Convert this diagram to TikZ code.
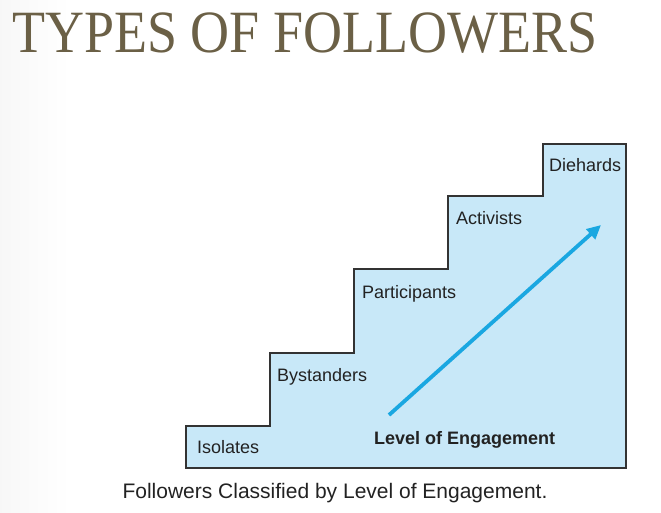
\documentclass[tikz,border=0pt]{standalone}
\usepackage{fontspec}
\setmainfont{Liberation Sans}
\newfontfamily\titlefont{Liberation Serif}
\usetikzlibrary{arrows.meta}
\definecolor{titlebrown}{HTML}{6B6046}
\definecolor{stairfill}{HTML}{C8E8F8}
\definecolor{arrowblue}{HTML}{1AA7E1}
\definecolor{textgray}{HTML}{222222}
\tikzset{
  steplabel/.style={anchor=base west, inner sep=0pt, text=textgray, font=\fontsize{18}{18}\selectfont},
  engagelabel/.style={steplabel, font=\fontsize{18}{18}\selectfont\bfseries}
}
\begin{document}
\begin{tikzpicture}[x=1pt,y=-1pt]
    \useasboundingbox (0,0) rectangle (661,512);
    \shade[left color=black!3, right color=white] (0,0) rectangle (70,512);
    \begin{scope}
      \node[anchor=base west, inner sep=0pt, text=titlebrown] (title) at (12,52)
        {\scalebox{0.9}[1]{\titlefont\fontsize{60}{60}\selectfont TYPES OF FOLLOWERS}};
      \draw[fill=stairfill, line width=1.2pt, draw=black!80]
        (186,468) -- (186,426) -- (270,426) -- (270,353) -- (354,353) -- (354,269)
        -- (448,269) -- (448,196) -- (543,196) -- (543,144) -- (626,144) -- (626,468) -- cycle;
      \node[steplabel] (isolates) at (197,453) {Isolates};
      \node[steplabel] (bystanders) at (277,381) {Bystanders};
      \node[steplabel] (participants) at (362,298) {Participants};
      \node[steplabel] (activists) at (456,224) {Activists};
      \node[steplabel] (diehards) at (549,171) {Diehards};
      \node[engagelabel] (engagement) at (374,444) {Level of Engagement};
      \coordinate (low) at (389,415);
      \coordinate (high) at (601,225);
      \draw[-{Triangle[length=14pt,width=13pt]}, line width=3.8pt, draw=arrowblue] (low) -- (high);
      \node[anchor=base, inner sep=0pt, text=textgray, font=\fontsize{21}{21}\selectfont] (caption) at (335,498)
        {Followers Classified by Level of Engagement.};
    \end{scope}
\end{tikzpicture}
\end{document}
